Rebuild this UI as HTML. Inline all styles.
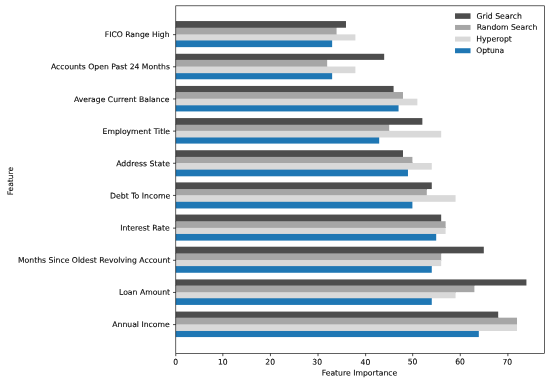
<!DOCTYPE html>
<html lang="en"><head><meta charset="utf-8"><title>Feature Importance</title>
<style>
html,body{margin:0;padding:0;background:#fff}
svg{display:block}
text{font-family:"DejaVu Sans","Liberation Sans",sans-serif;font-size:7.62px;fill:#000;stroke:#000;stroke-width:0.09px}
.tk{stroke:#000;stroke-width:0.7}
</style></head>
<body>
<svg width="550" height="384" viewBox="0 0 550 384">
<rect width="550" height="384" fill="#fff"/>
<g transform="translate(0.1 0)">
<rect x="175.68" y="21.067" width="170.20" height="6.653" fill="#4d4d4d"/>
<rect x="175.68" y="27" width="160.79" height="1" fill="#4d4d4d"/>
<rect x="175.68" y="27.720" width="160.79" height="6.653" fill="#a6a6a6"/>
<rect x="175.68" y="34" width="160.79" height="1" fill="#a6a6a6"/>
<rect x="175.68" y="34.373" width="179.61" height="6.098" fill="#d9d9d9"/>
<rect x="175.68" y="40" width="156.36" height="1" fill="#d9d9d9"/>
<rect x="175.68" y="40.471" width="156.36" height="6.653" fill="#1f77b4"/>
<rect x="175.68" y="53.777" width="208.39" height="6.098" fill="#4d4d4d"/>
<rect x="175.68" y="59" width="151.38" height="1" fill="#4d4d4d"/>
<rect x="175.68" y="59.875" width="151.38" height="6.653" fill="#a6a6a6"/>
<rect x="175.68" y="66" width="151.38" height="1" fill="#a6a6a6"/>
<rect x="175.68" y="66.528" width="179.61" height="6.653" fill="#d9d9d9"/>
<rect x="175.68" y="73" width="156.36" height="1" fill="#d9d9d9"/>
<rect x="175.68" y="73.181" width="156.36" height="6.098" fill="#1f77b4"/>
<rect x="175.68" y="85.932" width="217.80" height="6.098" fill="#4d4d4d"/>
<rect x="175.68" y="92" width="217.80" height="1" fill="#4d4d4d"/>
<rect x="175.68" y="92.030" width="227.21" height="6.653" fill="#a6a6a6"/>
<rect x="175.68" y="98" width="227.21" height="1" fill="#a6a6a6"/>
<rect x="175.68" y="98.683" width="241.60" height="6.653" fill="#d9d9d9"/>
<rect x="175.68" y="105" width="222.78" height="1" fill="#d9d9d9"/>
<rect x="175.68" y="105.336" width="222.78" height="6.098" fill="#1f77b4"/>
<rect x="175.68" y="118.087" width="246.58" height="6.653" fill="#4d4d4d"/>
<rect x="175.68" y="124" width="213.37" height="1" fill="#4d4d4d"/>
<rect x="175.68" y="124.740" width="213.37" height="6.098" fill="#a6a6a6"/>
<rect x="175.68" y="130" width="213.37" height="1" fill="#a6a6a6"/>
<rect x="175.68" y="130.838" width="265.40" height="6.653" fill="#d9d9d9"/>
<rect x="175.68" y="137" width="203.41" height="1" fill="#d9d9d9"/>
<rect x="175.68" y="137.491" width="203.41" height="6.099" fill="#1f77b4"/>
<rect x="175.68" y="150.242" width="227.21" height="6.653" fill="#4d4d4d"/>
<rect x="175.68" y="156" width="227.21" height="1" fill="#4d4d4d"/>
<rect x="175.68" y="156.895" width="236.62" height="6.099" fill="#a6a6a6"/>
<rect x="175.68" y="162" width="236.62" height="1" fill="#a6a6a6"/>
<rect x="175.68" y="162.994" width="255.99" height="6.652" fill="#d9d9d9"/>
<rect x="175.68" y="169" width="232.19" height="1" fill="#d9d9d9"/>
<rect x="175.68" y="169.646" width="232.19" height="6.653" fill="#1f77b4"/>
<rect x="175.68" y="182.398" width="255.99" height="6.652" fill="#4d4d4d"/>
<rect x="175.68" y="189" width="251.01" height="1" fill="#4d4d4d"/>
<rect x="175.68" y="189.050" width="251.01" height="6.099" fill="#a6a6a6"/>
<rect x="175.68" y="195" width="251.01" height="1" fill="#a6a6a6"/>
<rect x="175.68" y="195.149" width="279.79" height="6.653" fill="#d9d9d9"/>
<rect x="175.68" y="201" width="236.62" height="1" fill="#d9d9d9"/>
<rect x="175.68" y="201.802" width="236.62" height="6.652" fill="#1f77b4"/>
<rect x="175.68" y="214.553" width="265.40" height="6.653" fill="#4d4d4d"/>
<rect x="175.68" y="221" width="265.40" height="1" fill="#4d4d4d"/>
<rect x="175.68" y="221.206" width="269.83" height="6.652" fill="#a6a6a6"/>
<rect x="175.68" y="227" width="269.83" height="1" fill="#a6a6a6"/>
<rect x="175.68" y="227.858" width="269.83" height="6.099" fill="#d9d9d9"/>
<rect x="175.68" y="233" width="260.42" height="1" fill="#d9d9d9"/>
<rect x="175.68" y="233.957" width="260.42" height="6.653" fill="#1f77b4"/>
<rect x="175.68" y="246.708" width="308.02" height="6.653" fill="#4d4d4d"/>
<rect x="175.68" y="253" width="265.40" height="1" fill="#4d4d4d"/>
<rect x="175.68" y="253.361" width="265.40" height="6.653" fill="#a6a6a6"/>
<rect x="175.68" y="260" width="265.40" height="1" fill="#a6a6a6"/>
<rect x="175.68" y="260.014" width="265.40" height="6.098" fill="#d9d9d9"/>
<rect x="175.68" y="266" width="255.99" height="1" fill="#d9d9d9"/>
<rect x="175.68" y="266.112" width="255.99" height="6.653" fill="#1f77b4"/>
<rect x="175.68" y="279.418" width="350.64" height="6.098" fill="#4d4d4d"/>
<rect x="175.68" y="285" width="298.61" height="1" fill="#4d4d4d"/>
<rect x="175.68" y="285.516" width="298.61" height="6.653" fill="#a6a6a6"/>
<rect x="175.68" y="292" width="279.79" height="1" fill="#a6a6a6"/>
<rect x="175.68" y="292.169" width="279.79" height="6.098" fill="#d9d9d9"/>
<rect x="175.68" y="298" width="255.99" height="1" fill="#d9d9d9"/>
<rect x="175.68" y="298.267" width="255.99" height="6.653" fill="#1f77b4"/>
<rect x="175.68" y="311.573" width="322.41" height="6.098" fill="#4d4d4d"/>
<rect x="175.68" y="317" width="322.41" height="1" fill="#4d4d4d"/>
<rect x="175.68" y="317.671" width="341.23" height="6.653" fill="#a6a6a6"/>
<rect x="175.68" y="324" width="341.23" height="1" fill="#a6a6a6"/>
<rect x="175.68" y="324.324" width="341.23" height="6.653" fill="#d9d9d9"/>
<rect x="175.68" y="330" width="303.04" height="1" fill="#d9d9d9"/>
<rect x="175.68" y="330.977" width="303.04" height="6.098" fill="#1f77b4"/>
<rect x="175.68" y="5.82" width="368.63" height="347.61" fill="none" stroke="#000" stroke-width="0.62"/>
<line class="tk" x1="175.68" y1="353.43" x2="175.68" y2="356.18"/>
<text x="175.64" y="364.40" transform="rotate(0.04 175.64 364.40)" text-anchor="middle" style="font-size:7.620px">0</text>
<line class="tk" x1="222.73" y1="353.43" x2="222.73" y2="356.18"/>
<text x="222.63" y="364.44" transform="rotate(0.04 222.63 364.44)" text-anchor="middle" style="font-size:7.620px">10</text>
<line class="tk" x1="270.33" y1="353.43" x2="270.33" y2="356.18"/>
<text x="270.12" y="364.50" transform="rotate(0.04 270.12 364.50)" text-anchor="middle" style="font-size:7.620px">20</text>
<line class="tk" x1="317.93" y1="353.43" x2="317.93" y2="356.18"/>
<text x="317.08" y="364.52" transform="rotate(0.04 317.08 364.52)" text-anchor="middle" style="font-size:7.620px">30</text>
<line class="tk" x1="365.53" y1="353.43" x2="365.53" y2="356.18"/>
<text x="365.35" y="364.71" transform="rotate(0.04 365.35 364.71)" text-anchor="middle" style="font-size:7.620px">40</text>
<line class="tk" x1="412.58" y1="353.43" x2="412.58" y2="356.18"/>
<text x="412.39" y="364.38" transform="rotate(0.04 412.39 364.38)" text-anchor="middle" style="font-size:7.620px">50</text>
<line class="tk" x1="460.18" y1="353.43" x2="460.18" y2="356.18"/>
<text x="459.92" y="364.39" transform="rotate(0.04 459.92 364.39)" text-anchor="middle" style="font-size:7.620px">60</text>
<line class="tk" x1="507.78" y1="353.43" x2="507.78" y2="356.18"/>
<text x="507.14" y="364.44" transform="rotate(0.04 507.14 364.44)" text-anchor="middle" style="font-size:7.620px">70</text>
<line class="tk" x1="172.93" y1="34.65" x2="175.68" y2="34.65"/>
<text x="169.41" y="36.95" transform="rotate(0.04 169.41 36.95)" text-anchor="end" style="font-size:7.669px">FICO Range High</text>
<line class="tk" x1="172.93" y1="66.81" x2="175.68" y2="66.81"/>
<text x="169.82" y="69.24" transform="rotate(0.04 169.82 69.24)" text-anchor="end" style="font-size:7.681px">Accounts Open Past 24 Months</text>
<line class="tk" x1="172.93" y1="98.96" x2="175.68" y2="98.96"/>
<text x="169.44" y="102.09" transform="rotate(0.04 169.44 102.09)" text-anchor="end" style="font-size:7.678px">Average Current Balance</text>
<line class="tk" x1="172.93" y1="131.12" x2="175.68" y2="131.12"/>
<text x="169.97" y="134.10" transform="rotate(0.04 169.97 134.10)" text-anchor="end" style="font-size:7.680px">Employment Title</text>
<line class="tk" x1="172.93" y1="163.27" x2="175.68" y2="163.27"/>
<text x="169.89" y="166.38" transform="rotate(0.04 169.89 166.38)" text-anchor="end" style="font-size:7.750px">Address State</text>
<line class="tk" x1="172.93" y1="195.43" x2="175.68" y2="195.43"/>
<text x="170.19" y="198.53" transform="rotate(0.04 170.19 198.53)" text-anchor="end" style="font-size:7.750px">Debt To Income</text>
<line class="tk" x1="172.93" y1="228.14" x2="175.68" y2="228.14"/>
<text x="169.71" y="230.54" transform="rotate(0.04 169.71 230.54)" text-anchor="end" style="font-size:7.687px">Interest Rate</text>
<line class="tk" x1="172.93" y1="260.29" x2="175.68" y2="260.29"/>
<text x="170.28" y="262.74" transform="rotate(0.04 170.28 262.74)" text-anchor="end" style="font-size:7.715px">Months Since Oldest Revolving Account</text>
<line class="tk" x1="172.93" y1="292.45" x2="175.68" y2="292.45"/>
<text x="170.00" y="294.76" transform="rotate(0.04 170.00 294.76)" text-anchor="end" style="font-size:7.701px">Loan Amount</text>
<line class="tk" x1="172.93" y1="324.60" x2="175.68" y2="324.60"/>
<text x="169.67" y="327.06" transform="rotate(0.04 169.67 327.06)" text-anchor="end" style="font-size:7.702px">Annual Income</text>
<text x="359.34" y="375.56" transform="rotate(0.04 359.34 375.56)" text-anchor="middle" style="font-size:7.695px">Feature Importance</text>
<text transform="translate(12.89,181.06) rotate(-89.96)" text-anchor="middle" style="font-size:7.561px">Feature</text>
<rect x="454.92" y="13.31" width="15.50" height="5.54" fill="#4d4d4d"/>
<text x="476.39" y="18.82" transform="rotate(0.04 476.39 18.82)" style="font-size:7.767px">Grid Search</text>
<rect x="454.92" y="24.95" width="15.50" height="4.99" fill="#a6a6a6"/>
<text x="476.62" y="29.84" transform="rotate(0.04 476.62 29.84)" style="font-size:7.687px">Random Search</text>
<rect x="454.92" y="36.59" width="15.50" height="4.99" fill="#d9d9d9"/>
<text x="476.17" y="41.42" transform="rotate(0.04 476.17 41.42)" style="font-size:7.702px">Hyperopt</text>
<rect x="454.92" y="48.23" width="15.50" height="4.99" fill="#1f77b4"/>
<text x="476.16" y="53.09" transform="rotate(0.04 476.16 53.09)" style="font-size:7.597px">Optuna</text>
</g>
</svg>
</body></html>
